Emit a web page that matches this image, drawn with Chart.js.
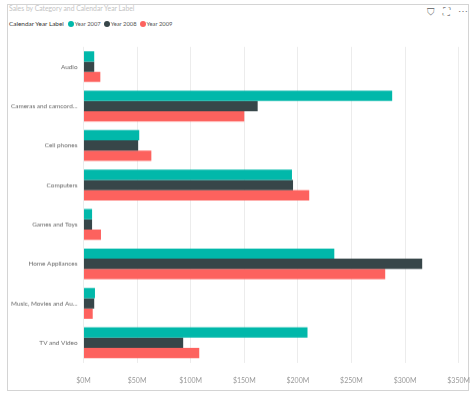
<!DOCTYPE html>
<html>
<head>
<meta charset="utf-8">
<script src="https://cdn.jsdelivr.net/npm/chart.js@4"></script>
<style>
  body { margin: 0; width: 474px; height: 395px; background: #fff; position: relative; overflow: hidden; font-family: Lato, sans-serif; }
  #frame { position: absolute; left: 7px; top: 4px; width: 462px; height: 387px; border: 1px solid #d4d4d4; box-sizing: border-box; }
  #title { position: absolute; left: 9px; top: 4px; font-size: 6.8px; color: #c4c4c4; }
  #legend { position: absolute; left: 9px; top: 20px; font-size: 6.4px; color: #333; display: flex; align-items: center; }
  #legend .ttl { color: #333; margin-right: 4px; }
  #legend .it { display: flex; align-items: center; margin-right: 3px; color: #555; font-size: 5.8px; }
  #legend .dot { width: 6px; height: 6px; border-radius: 50%; margin-right: 1px; }
  #icons { position: absolute; left: 427px; top: 5px; font-size: 10px; color: #777; display: flex; gap: 8px; }
  #wrap { position: absolute; left: 0; top: 37.4px; width: 484px; height: 358.6px; }
</style>
</head>
<body>
<div id="frame"></div>
<div id="title">Sales by Category and Calendar Year Label</div>
<div id="legend"></div>
<div id="icons"><span>⛉</span><span>⛶</span><span>⋯</span></div>
<div id="wrap"><canvas id="chart"></canvas></div>
<script>
// libellés des catégories (tronqués comme dans le visuel)
const categories = ['Audio', 'Cameras and camcord…', 'Cell phones', 'Computers', 'Games and Toys', 'Home Appliances', 'Music, Movies and Au…', 'TV and Video'];
const seriesNames = ['Year 2007', 'Year 2008', 'Year 2009'];
const seriesColors = ['#01B8AA', '#374649', '#FD625E'];

// ventes en millions de $
const sales2007 = [10, 288, 52, 194.5, 8, 234, 10.7, 209];
const sales2008 = [10, 162.5, 51, 195.5, 8, 316, 10, 93];
const sales2009 = [15.7, 150, 63.3, 210.6, 16.3, 281.5, 8.6, 108];

const xTicks = [0, 50, 100, 150, 200, 250, 300, 350];

const legend = document.getElementById('legend');
legend.innerHTML = '<span class="ttl">Calendar Year Label</span>' + seriesNames.map((name, i) =>
    `<span class="it"><span class="dot" style="background:${seriesColors[i]}"></span>${name}</span>`
).join('');

const allSeries = [sales2007, sales2008, sales2009];

new Chart(document.getElementById('chart'), {
    type: 'bar',
    data: {
        labels: categories,
        datasets: allSeries.map((values, i) => ({
            label: seriesNames[i],
            data: values,
            backgroundColor: seriesColors[i],
            barPercentage: 1,
            categoryPercentage: 0.78
        }))
    },
    options: {
        indexAxis: 'y',
        responsive: true,
        maintainAspectRatio: false,
        animation: false,
        layout: { padding: { left: 0, right: 17, top: 3.5, bottom: 0 } },
        scales: {
            x: {
                min: 0,
                max: 350,
                afterBuildTicks: function(scale) {
                    scale.ticks = xTicks.map(v => ({ value: v }));
                },
                afterFit: function(scale) { scale.height = 34; },
                ticks: {
                    color: '#999',
                    font: { size: 7, family: 'Lato' },
                    padding: 14,
                    maxRotation: 0,
                    callback: function(value) { return '$' + value + 'M'; }
                },
                grid: { color: '#ececec', drawTicks: false },
                border: { display: false }
            },
            y: {
                afterFit: function(scale) { scale.width = 83.5; },
                ticks: {
                    color: '#666',
                    font: { size: 6.4, family: 'Lato' },
                    padding: 6
                },
                grid: { display: false, drawTicks: false },
                border: { display: false }
            }
        },
        plugins: {
            legend: { display: false },
            tooltip: { enabled: false }
        }
    }
});
</script>
</body>
</html>
